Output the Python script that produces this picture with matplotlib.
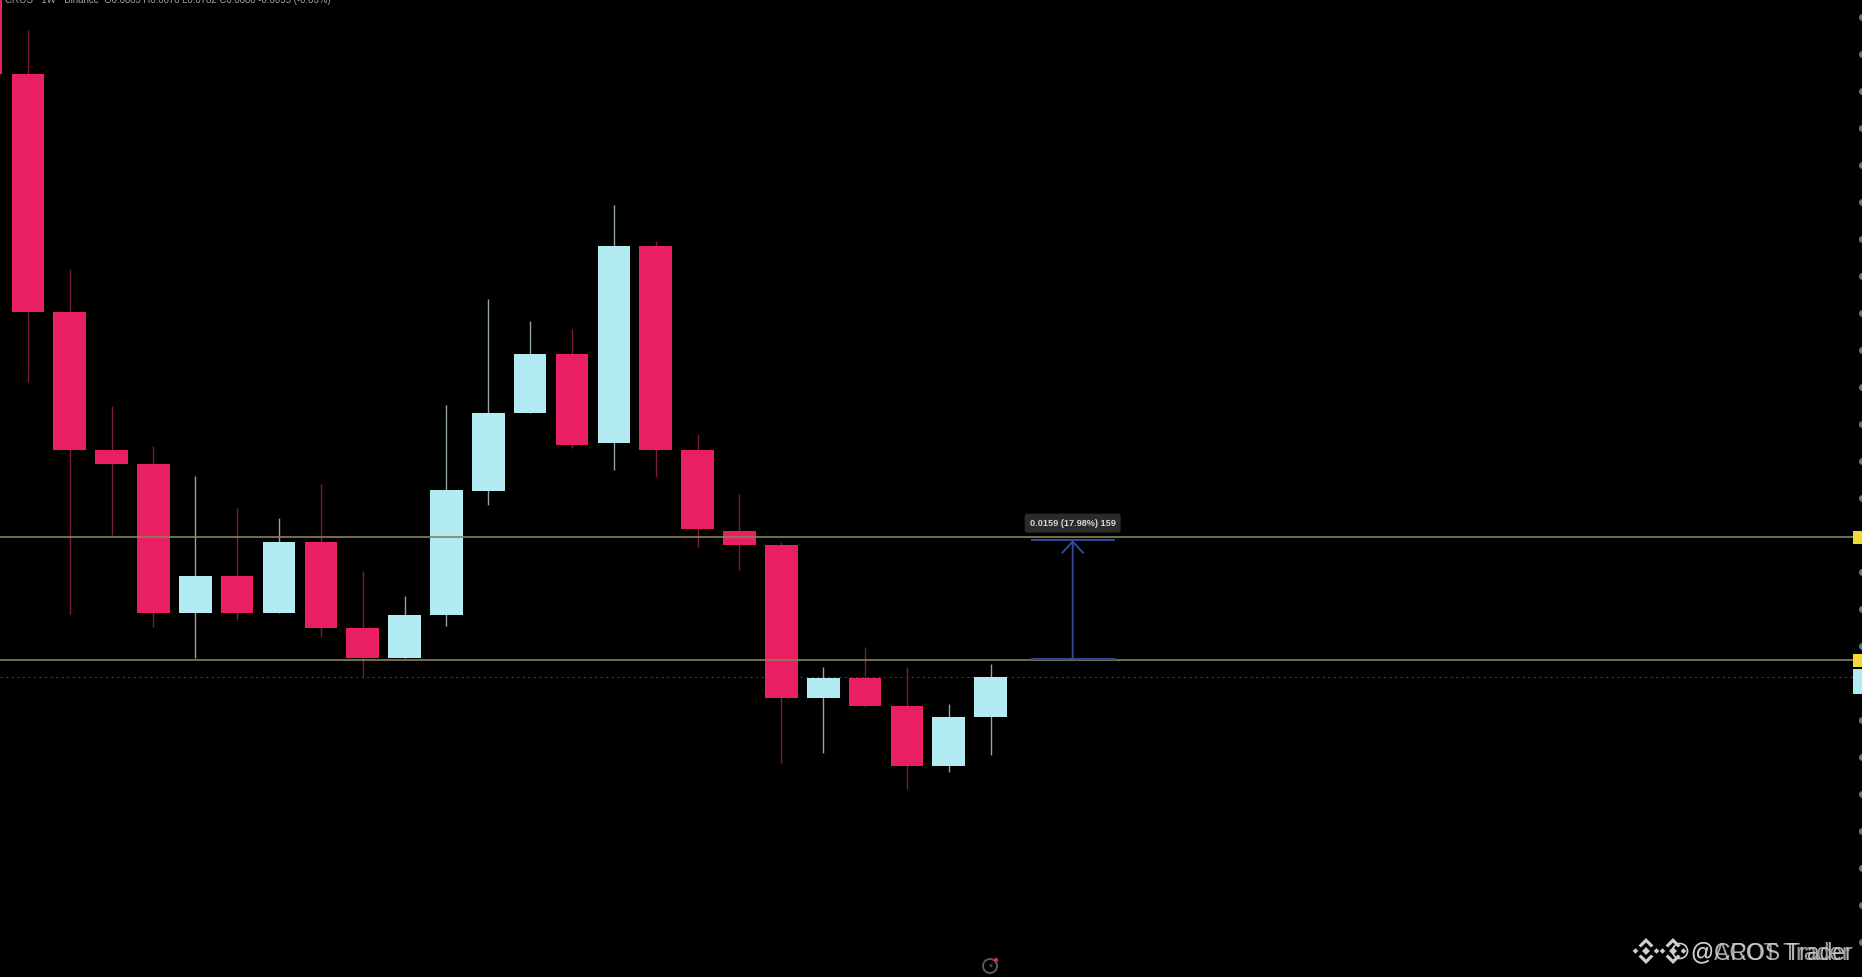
import matplotlib
matplotlib.use("Agg")
import numpy as np
import matplotlib.pyplot as plt
from matplotlib.patches import Polygon, Circle

plt.rcParams['font.family'] = ['Liberation Sans', 'DejaVu Sans']

# candle values (first one is cut by the left edge)
opens = [0.1798, 0.16679, 0.13483, 0.11639, 0.11448, 0.09461, 0.09954, 0.09461, 0.10399, 0.09254,
         0.08856, 0.09429, 0.11082, 0.12132, 0.12927, 0.11734, 0.14374, 0.11639, 0.10558, 0.10367,
         0.08316, 0.08586, 0.08205, 0.07410, 0.08061]
closes = [0.16679, 0.13483, 0.11639, 0.11448, 0.09461, 0.09954, 0.09461, 0.10399, 0.09254, 0.08856,
          0.09429, 0.11098, 0.12132, 0.12927, 0.11703, 0.14374, 0.11639, 0.10574, 0.10367, 0.08316,
          0.08586, 0.08205, 0.07410, 0.08061, 0.08602]
highs = [0.1850, 0.17267, 0.14056, 0.12227, 0.11687, 0.11289, 0.10860, 0.10733, 0.11178, 0.10017,
         0.09683, 0.12243, 0.13658, 0.13372, 0.13261, 0.14914, 0.14437, 0.11846, 0.11051, 0.10399,
         0.08729, 0.08999, 0.08729, 0.08236, 0.08777]
lows = [0.1600, 0.12545, 0.09445, 0.10494, 0.09270, 0.08856, 0.09365, 0.09461, 0.09127, 0.08602,
        0.08856, 0.09286, 0.10907, 0.12132, 0.11671, 0.11369, 0.11273, 0.10335, 0.10033, 0.07441,
        0.07584, 0.08189, 0.07092, 0.07330, 0.07552]
first_bar = -1

level_prices = [0.10466, 0.08828]
last_price = 0.08602
measure_low = 0.0884
measure_high = 0.1043
measure_label = "0.0159 (17.98%) 159"
measure_bars = [23.97, 24.96, 25.98]
price_ticks = [0.17437 - 0.004954 * k for k in range(26)]
header = "CROS · 1W · Binance  O0.0885 H0.0878 L0.0782 C0.0880 -0.0095 (-0.03%)"
watermarks = ["@CROS Trader", "@ACOT Trader"]

RED = "#E91E63"
BLUE = "#B2EBF2"

fig = plt.figure(figsize=(18.62, 9.77), dpi=100, facecolor="black")
ax = fig.add_axes([0, 0, 1, 1], facecolor="black")
ax.set_xlim(-0.665, 43.816)
ax.set_ylim(0.04579, 0.17665)
ax.axis("off")

# candles
x = np.arange(len(opens)) + first_bar
o = np.array(opens)
c = np.array(closes)
up = c >= o
ax.vlines(x[up], np.array(lows)[up], np.array(highs)[up], color="#8fa3a8", lw=1.0, zorder=2)
ax.vlines(x[~up], np.array(lows)[~up], np.array(highs)[~up], color="#7a1c40", lw=1.0, zorder=2)
ax.bar(x, np.abs(c - o), bottom=np.minimum(o, c), width=0.78,
       color=[BLUE if u else RED for u in up], linewidth=0, zorder=3)

# levels
for p in level_prices:
    ax.axhline(p, color="#86815f", lw=1.2, zorder=4)
ax.axhline(last_price, color="#3a3f3f", lw=0.8, ls=(0, (2, 3)), zorder=1)

# measure tool
ax.hlines([measure_low, measure_high], measure_bars[0], measure_bars[2], color="#2f4a9a", lw=1.4, zorder=5)
ax.annotate("", xy=(measure_bars[1], measure_high), xytext=(measure_bars[1], measure_low),
            arrowprops=dict(arrowstyle="->,head_length=0.45,head_width=0.42", color="#2f4a9a", lw=1.4,
                            mutation_scale=18, shrinkA=0, shrinkB=0), zorder=5)
ax.annotate(measure_label, xy=(measure_bars[1], measure_high), xytext=(0, 17),
            textcoords="offset pixels", ha="center", va="center", fontsize=6.6,
            fontweight="bold", color="#d8d8d8", zorder=7,
            bbox=dict(boxstyle="round,pad=0.55,rounding_size=0.3", fc="#2b2b2b", ec="none"))

# pixel overlay for the screen furniture
over = fig.add_axes([0, 0, 1, 1], facecolor="none")
over.set_xlim(0, 1862)
over.set_ylim(977, 0)
over.axis("off")

# price tags on the right edge
over.add_patch(plt.Rectangle((1853, 531), 9, 13, fc="#F2D933", ec="none", zorder=3))
over.add_patch(plt.Rectangle((1853, 654), 9, 13, fc="#F2D933", ec="none", zorder=3))
over.add_patch(plt.Rectangle((1853, 669), 9, 25, fc=BLUE, ec="none", zorder=3))

# tick dots of the price scale, cut by the right edge
ax.scatter([43.816] * len(price_ticks), price_ticks, s=26, color="#667085", linewidths=0,
           clip_on=True, zorder=8)


def binance_logo(cx, cy, col="#cfcfcf"):
    def diamond(dx, dy, r):
        over.add_patch(Polygon([(cx + dx, cy + dy - r), (cx + dx + r, cy + dy),
                                (cx + dx, cy + dy + r), (cx + dx - r, cy + dy)], fc=col, ec="none"))
    diamond(0, 0, 4)
    diamond(-10.5, 0, 2.8)
    diamond(10.5, 0, 2.8)
    for s in (-1, 1):
        over.add_patch(Polygon([(cx, cy + s * 13), (cx + 7.5, cy + s * 5.5), (cx + 5, cy + s * 3.5),
                                (cx, cy + s * 8.5), (cx - 5, cy + s * 3.5), (cx - 7.5, cy + s * 5.5)],
                               fc=col, ec="none"))


binance_logo(1646, 951)
binance_logo(1673, 951)
over.add_patch(Circle((1680, 951), 7.5, fc="none", ec="#cfcfcf", lw=1.2))

# doubled watermark, the source video frame blends two captions
over.text(1691, 959, watermarks[0], fontsize=16.5, color="#d4d4d4", alpha=0.85, ha="left", va="baseline")
over.text(1691, 959, watermarks[1], fontsize=16.5, color="#d4d4d4", alpha=0.75, ha="left", va="baseline")

# bottom replay icon
over.add_patch(Circle((990, 966), 7, fc="none", ec="#5a5a5a", lw=1.4))
over.text(990, 966, "⚡", fontsize=6, color="#777777", ha="center", va="center", family="DejaVu Sans")
over.add_patch(Circle((996, 960), 2.2, fc=RED, ec="none"))

# legend line, mostly cut off by the top edge
over.text(5, 3, header, fontsize=6.9, color="#a0a0a0", ha="left", va="baseline")

fig.savefig("out.png", dpi=100, facecolor="black")
